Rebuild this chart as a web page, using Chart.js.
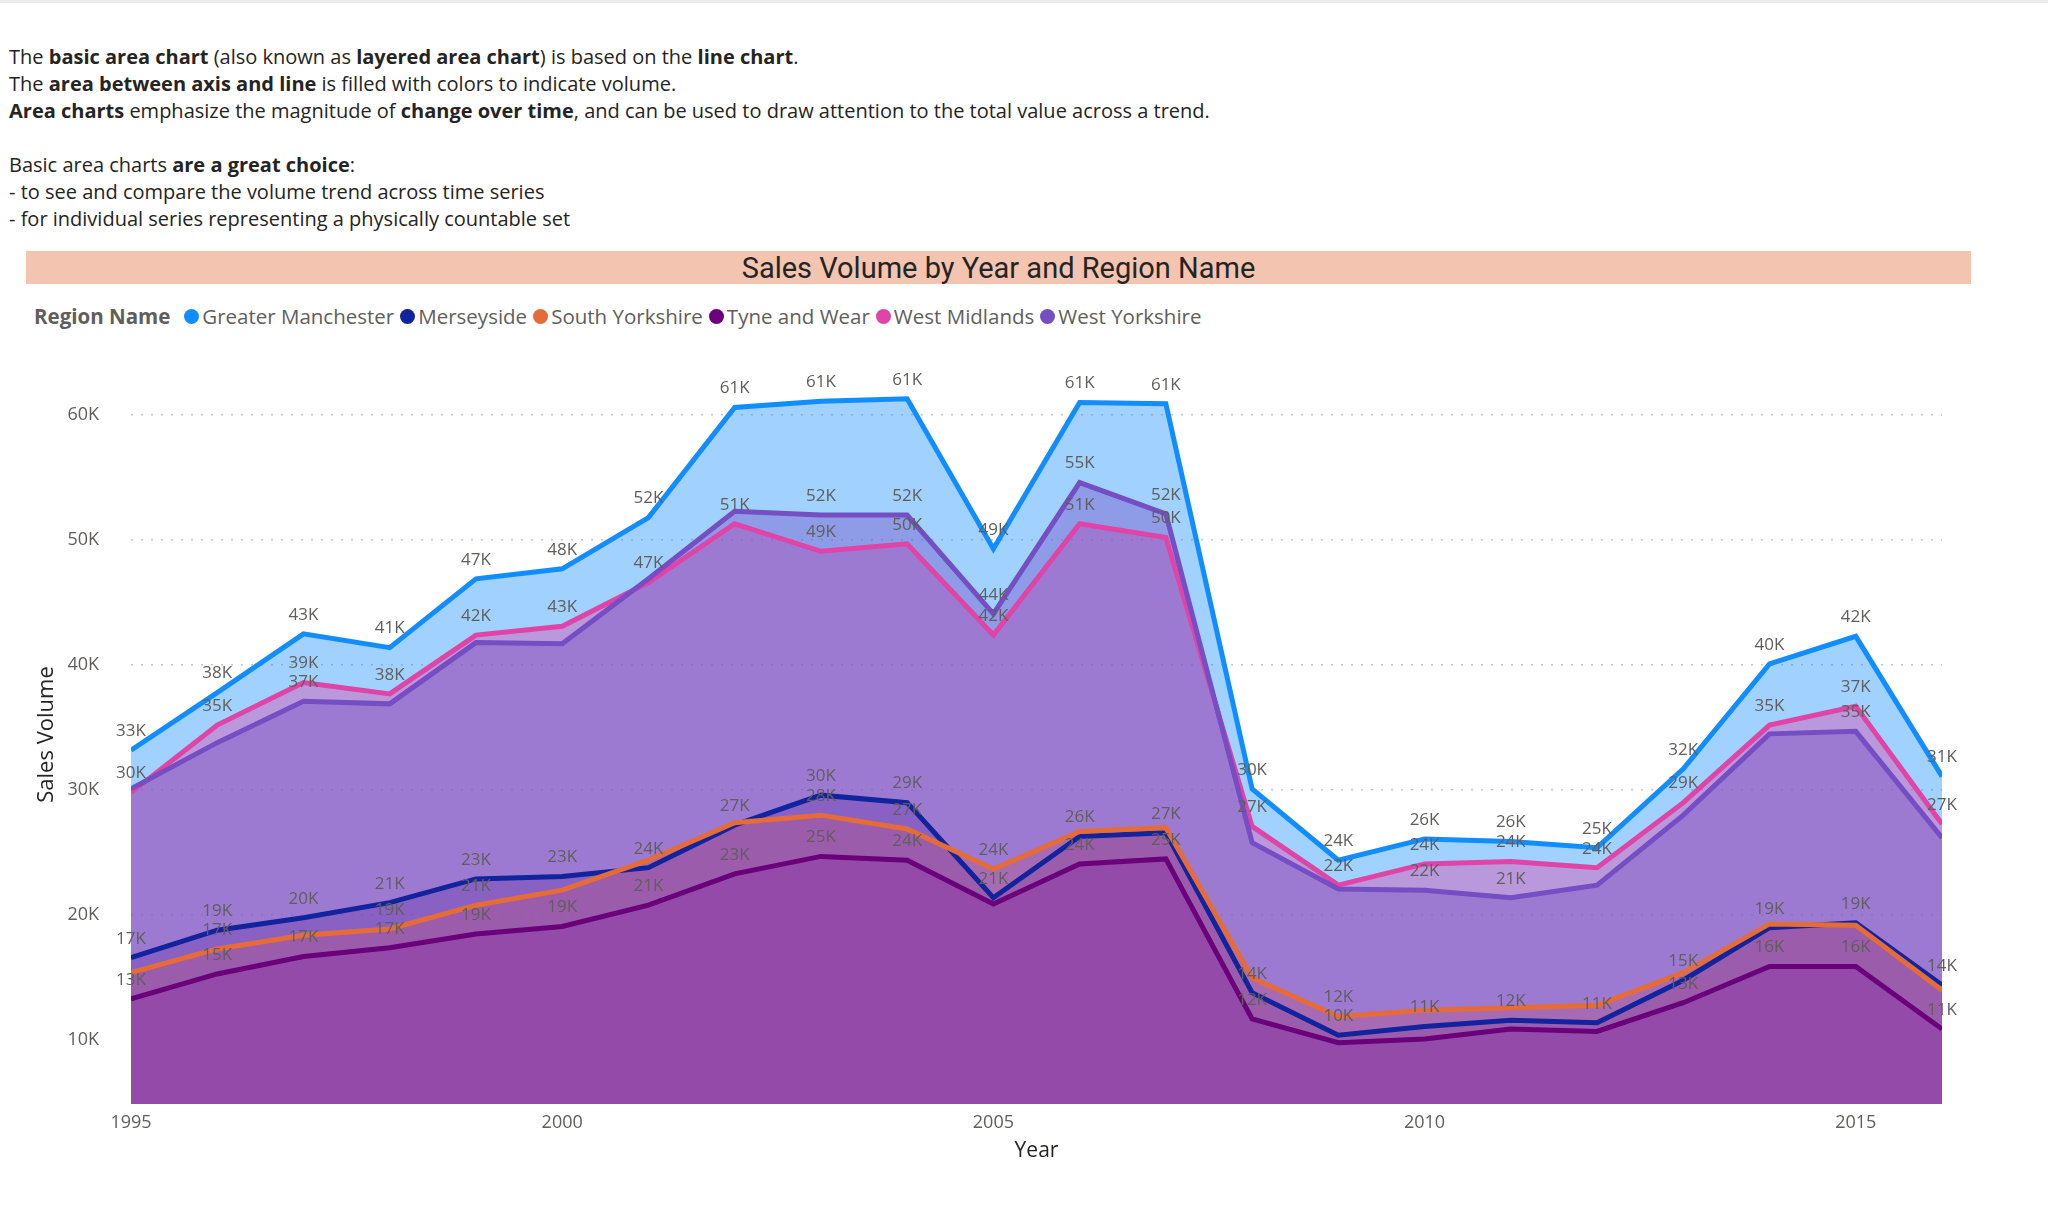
<!DOCTYPE html>
<html>
<head>
<meta charset="utf-8">
<title>Sales Volume by Year and Region Name</title>
<script src="https://cdn.jsdelivr.net/npm/chart.js@4.4.0/dist/chart.umd.min.js"></script>
<style>
    body {
        margin: 0;
        width: 2048px;
        height: 1215px;
        background: #ffffff;
        font-family: "Open Sans", "Noto Sans", sans-serif;
        position: relative;
        overflow: hidden;
    }

    .topline {
        position: absolute;
        left: 0;
        top: 0;
        width: 2048px;
        height: 3px;
        background: #ececec;
    }

    .intro {
        position: absolute;
        left: 9px;
        top: 43px;
        font-size: 20px;
        line-height: 27px;
        color: #252423;
        white-space: pre;
    }

    .title-bar {
        position: absolute;
        left: 26px;
        top: 251px;
        width: 1945px;
        height: 33px;
        background: #F3C5B0;
        text-align: center;
        font-family: Roboto, sans-serif;
        font-size: 29px;
        line-height: 34px;
        color: #252423;
    }

    .legend {
        position: absolute;
        left: 34px;
        top: 302px;
        height: 28px;
        display: flex;
        align-items: center;
        font-size: 20.5px;
        color: #605E5C;
    }

    .legend b {
        margin-right: 14px;
    }

    .legend .item {
        display: flex;
        align-items: center;
        margin-right: 6px;
    }

    .legend .dot {
        width: 15px;
        height: 15px;
        border-radius: 50%;
        margin-right: 3px;
    }

    .chart-wrap {
        position: absolute;
        left: 0;
        top: 340px;
        width: 2048px;
        height: 840px;
    }
</style>
</head>
<body>
<div class="topline"></div>

<div class="intro">The <b>basic area chart</b> (also known as <b>layered area chart</b>) is based on the <b>line chart</b>.
The <b>area between axis and line</b> is filled with colors to indicate volume.
<b>Area charts</b> emphasize the magnitude of <b>change over time</b>, and can be used to draw attention to the total value across a trend.

Basic area charts <b>are a great choice</b>:
- to see and compare the volume trend across time series
- for individual series representing a physically countable set</div>

<div class="title-bar">Sales Volume by Year and Region Name</div>
<div class="legend" id="legend"><b>Region Name</b></div>

<div class="chart-wrap"><canvas id="chart-area"></canvas></div>

<script>
// 축 / 라벨
const years = [1995, 1996, 1997, 1998, 1999, 2000, 2001, 2002, 2003, 2004, 2005,
    2006, 2007, 2008, 2009, 2010, 2011, 2012, 2013, 2014, 2015, 2016];
const xTicks = [1995, 2000, 2005, 2010, 2015];
const yTicks = [10000, 20000, 30000, 40000, 50000, 60000];
const regionNames = ["Greater Manchester", "Merseyside", "South Yorkshire", "Tyne and Wear", "West Midlands", "West Yorkshire"];
const regionColors = ["#118DFF", "#12239E", "#E66C37", "#6B007B", "#E044A7", "#744EC2"];

// 데이터 (지역별 판매량)
const greaterManchester = [33200, 37800, 42500, 41400, 46900, 47700, 51800, 60600, 61100, 61300, 49300,
    61000, 60900, 30100, 24400, 26100, 25900, 25400, 31700, 40100, 42300, 31100];
const merseyside = [16600, 18800, 19800, 21000, 22900, 23100, 23800, 27200, 29600, 29000, 21400,
    26300, 26600, 13800, 10400, 11100, 11600, 11400, 14800, 19000, 19400, 14400];
const southYorkshire = [15400, 17300, 18400, 18900, 20800, 22000, 24400, 27400, 28000, 26900, 23700,
    26700, 27000, 15000, 11900, 12400, 12600, 12800, 15400, 19300, 19200, 14000];
const tyneAndWear = [13300, 15300, 16700, 17400, 18500, 19100, 20800, 23300, 24700, 24400, 20900,
    24100, 24500, 11700, 9800, 10100, 10900, 10700, 13000, 15900, 15900, 10900];
const westMidlands = [29800, 35200, 38600, 37700, 42400, 43100, 46600, 51300, 49100, 49700, 42400,
    51300, 50200, 27100, 22400, 24100, 24300, 23800, 29000, 35200, 36700, 27300];
const westYorkshire = [30100, 33800, 37100, 36900, 41800, 41700, 46900, 52300, 52000, 52000, 44100,
    54600, 52100, 25800, 22100, 22000, 21400, 22400, 28000, 34500, 34700, 26200];

const seriesValues = [greaterManchester, merseyside, southYorkshire, tyneAndWear, westMidlands, westYorkshire];

function toRgba(hex, alpha) {
    const n = parseInt(hex.slice(1), 16);
    return "rgba(" + (n >> 16) + "," + ((n >> 8) & 255) + "," + (n & 255) + "," + alpha + ")";
}

function fmtK(v) {
    return Math.round(v / 1000) + "K";
}

// 범례
const legendBox = document.getElementById("legend");
regionNames.forEach((name, idx) => {
    const item = document.createElement("span");
    item.className = "item";
    item.innerHTML = '<span class="dot" style="background:' + regionColors[idx] + '"></span>' + name;
    legendBox.appendChild(item);
});

// 데이터 세트
const datasets = regionNames.map((name, idx) => ({
    label: name,
    data: years.map((yr, i) => ({ x: yr, y: seriesValues[idx][i] })),
    borderColor: regionColors[idx],
    backgroundColor: toRgba(regionColors[idx], 0.4),
    borderWidth: 5,
    pointRadius: 0,
    fill: "start",
    tension: 0,
    order: regionNames.length - 1 - idx
}));

// 데이터 라벨 (겹치면 숨김)
const pointLabels = {
    id: "pointLabels",
    afterDatasetsDraw(chart) {
        const ctx = chart.ctx;
        ctx.save();
        ctx.font = '17px "Open Sans", "Noto Sans", sans-serif';
        ctx.fillStyle = "#605E5C";
        ctx.textAlign = "center";
        ctx.textBaseline = "middle";
        const placed = [];
        chart.data.datasets.forEach((ds, di) => {
            const meta = chart.getDatasetMeta(di);
            meta.data.forEach((pt, i) => {
                const y = pt.y - 19;
                const clash = placed.some(p => p.i === i && Math.abs(p.y - y) < 18);
                if (clash) return;
                placed.push({ i: i, y: y });
                ctx.fillText(fmtK(ds.data[i].y), pt.x, y);
            });
        });
        ctx.restore();
    }
};

const config_area = {
    type: "line",
    data: { datasets: datasets },
    plugins: [pointLabels],
    options: {
        responsive: true,
        maintainAspectRatio: false,
        animation: false,
        layout: {
            padding: { top: 25, right: 106, left: 0, bottom: 0 }
        },
        scales: {
            x: {
                type: "linear",
                min: 1995,
                max: 2016,
                afterBuildTicks: scale => {
                    scale.ticks = xTicks.map(v => ({ value: v }));
                },
                afterFit: scale => {
                    scale.height = 76;
                },
                grid: { display: false, drawTicks: false },
                border: { display: false },
                ticks: {
                    padding: 8,
                    color: "#605E5C",
                    font: { family: '"Open Sans", "Noto Sans", sans-serif', size: 18 },
                    callback: v => String(v)
                },
                title: {
                    display: true,
                    text: "Year",
                    color: "#252423",
                    font: { family: '"Open Sans", "Noto Sans", sans-serif', size: 21 },
                    padding: { top: 0, bottom: 16 }
                }
            },
            y: {
                min: 4900,
                max: 64000,
                afterBuildTicks: scale => {
                    scale.ticks = yTicks.map(v => ({ value: v }));
                },
                afterFit: scale => {
                    scale.width = 131;
                    scale.paddingTop = 0;
                    scale.paddingBottom = 0;
                },
                grid: {
                    color: "#C8C6C4",
                    lineWidth: 1.5,
                    drawTicks: false
                },
                border: { display: false, dash: [2, 8] },
                ticks: {
                    padding: 32,
                    color: "#605E5C",
                    font: { family: '"Open Sans", "Noto Sans", sans-serif', size: 18 },
                    callback: v => fmtK(v)
                },
                title: {
                    display: true,
                    text: "Sales Volume",
                    color: "#252423",
                    font: { family: '"Open Sans", "Noto Sans", sans-serif', size: 22 },
                    padding: { top: 34, bottom: 0 }
                }
            }
        },
        plugins: {
            legend: { display: false },
            tooltip: { enabled: false },
            filler: { drawTime: "beforeDatasetsDraw" }
        }
    }
};

const areaChart = new Chart(document.getElementById("chart-area"), config_area);
</script>
</body>
</html>
